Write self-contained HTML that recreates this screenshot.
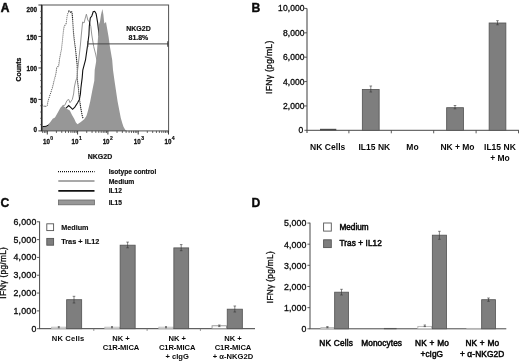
<!DOCTYPE html>
<html><head><meta charset="utf-8"><title>Figure</title>
<style>
html,body{margin:0;padding:0;background:#fff;}
svg{display:block;font-family:'Liberation Sans', sans-serif;}
</style></head><body>
<svg width="520" height="362">
<rect width="520" height="362" fill="#fff"/>
<polyline points="42.5,105 45,106.8 47.2,105.5 48.3,100 50,95 52.4,87.7 54,81 55.9,73.8 56.6,68.3 58.7,65.5 59.4,60 60.2,55.5 61.4,50 62.5,40 63.4,31 64.2,26.2 66.2,23.5 67,17 67.8,13.2 69,11" fill="none" stroke="#4a4a4a" stroke-width="1.15" stroke-linecap="round" stroke-dasharray="0.01 2"/>
<polyline points="69,11 70.4,12.2 71.6,11.2 72.2,14 72.8,22 73.3,30 74.3,40 75.3,47.5 76.4,58 77.2,65 77.3,79.5 78.2,86 79.2,97 80.8,108.2 82.5,117 83.6,118.9" fill="none" stroke="#111" stroke-width="1.3" stroke-linecap="round" stroke-dasharray="0.01 2"/>
<polyline points="62.6,105.5 64.8,105.3 67,100.5 68.7,99.4 70,102.7 72.3,99.5 73.6,94 74.4,87 75.8,80.5 77,78 77.6,70 78.2,65 79.2,56 80.4,45 81.3,35 82.6,22 84,23 85.3,18 86.4,14.2 87.9,20.5 89.3,21.4 90.8,26.3 91.8,35 93.7,46.6 95.6,54 97.5,63 99,72" fill="none" stroke="#8a8a8a" stroke-width="0.9"/>
<polyline points="66,108.2 68.7,105.5 70.4,107.1 72.6,109.3 74.8,107.1 77.6,102.7 79.4,99.4 80.4,94 80.9,88 82.2,77.6 82.8,70 85.5,60 87.4,46.6 88.9,35 89.3,26.3 90.3,18 91.8,16 93.2,11.8 94.7,11.3 96.1,13.7 97.6,22.4 98.5,30 99,36" fill="none" stroke="#111" stroke-width="1.1"/>
<polygon points="42,130.9 42,126.5 46.6,125.9 50,122.6 52.7,118.7 55,117.6 57.7,112.7 60.4,107.7 62.6,105.5 64.8,107 67.6,109.3 69.8,110.5 72,114.9 74.2,118.7 75.9,122.6 77.5,124.2 80.8,122 84.2,119.3 86.4,116 87.5,112.5 88.6,108.2 90.2,101.4 92.2,91 94.3,80.7 94.7,70 96.4,60 97.3,47 98,38 98.6,30 99,24.3 100,21.4 101,14.7 102.4,8.9 103.4,14.7 104.3,23.4 106,22 107.2,29 108.6,37 109.8,46 112.2,60 113,70 114.5,80.7 117.6,101.4 120.8,118 122.4,123.5 123.6,127 125.2,129.8 127,130.9" fill="#979797"/>
<polyline points="42.5,126.6 46,126.3 48.5,125" fill="none" stroke="#111" stroke-width="1"/>
<line x1="87.9" y1="43.9" x2="168.6" y2="43.9" stroke="#484848" stroke-width="1"/>
<line x1="87.9" y1="41" x2="87.9" y2="47" stroke="#484848" stroke-width="0.9"/>
<line x1="168.0" y1="41.3" x2="168.0" y2="46.7" stroke="#333" stroke-width="1.4"/>
<rect x="42.0" y="5.0" width="126.6" height="125.9" fill="none" stroke="#525252" stroke-width="1"/>
<line x1="41.6" y1="5.0" x2="41.6" y2="130.9" stroke="#2a2a2a" stroke-width="1.4"/>
<line x1="38.4" y1="130.90" x2="42.0" y2="130.90" stroke="#222" stroke-width="0.9"/>
<line x1="40.2" y1="124.61" x2="42.0" y2="124.61" stroke="#333" stroke-width="0.7"/>
<line x1="40.2" y1="118.31" x2="42.0" y2="118.31" stroke="#333" stroke-width="0.7"/>
<line x1="40.2" y1="112.02" x2="42.0" y2="112.02" stroke="#333" stroke-width="0.7"/>
<line x1="40.2" y1="105.72" x2="42.0" y2="105.72" stroke="#333" stroke-width="0.7"/>
<line x1="38.4" y1="99.43" x2="42.0" y2="99.43" stroke="#222" stroke-width="0.9"/>
<line x1="40.2" y1="93.13" x2="42.0" y2="93.13" stroke="#333" stroke-width="0.7"/>
<line x1="40.2" y1="86.84" x2="42.0" y2="86.84" stroke="#333" stroke-width="0.7"/>
<line x1="40.2" y1="80.54" x2="42.0" y2="80.54" stroke="#333" stroke-width="0.7"/>
<line x1="40.2" y1="74.25" x2="42.0" y2="74.25" stroke="#333" stroke-width="0.7"/>
<line x1="38.4" y1="67.95" x2="42.0" y2="67.95" stroke="#222" stroke-width="0.9"/>
<line x1="40.2" y1="61.66" x2="42.0" y2="61.66" stroke="#333" stroke-width="0.7"/>
<line x1="40.2" y1="55.36" x2="42.0" y2="55.36" stroke="#333" stroke-width="0.7"/>
<line x1="40.2" y1="49.06" x2="42.0" y2="49.06" stroke="#333" stroke-width="0.7"/>
<line x1="40.2" y1="42.77" x2="42.0" y2="42.77" stroke="#333" stroke-width="0.7"/>
<line x1="38.4" y1="36.48" x2="42.0" y2="36.48" stroke="#222" stroke-width="0.9"/>
<line x1="40.2" y1="30.18" x2="42.0" y2="30.18" stroke="#333" stroke-width="0.7"/>
<line x1="40.2" y1="23.88" x2="42.0" y2="23.88" stroke="#333" stroke-width="0.7"/>
<line x1="40.2" y1="17.59" x2="42.0" y2="17.59" stroke="#333" stroke-width="0.7"/>
<line x1="40.2" y1="11.30" x2="42.0" y2="11.30" stroke="#333" stroke-width="0.7"/>
<line x1="38.4" y1="5.00" x2="42.0" y2="5.00" stroke="#222" stroke-width="0.9"/>
<text transform="translate(37.0 132.1) scale(0.86 1)" font-size="7.4" font-weight="bold" text-anchor="end" fill="#111" stroke="#111" stroke-width="0.3">0</text>
<text transform="translate(37.0 102.7) scale(0.86 1)" font-size="7.4" font-weight="bold" text-anchor="end" fill="#111" stroke="#111" stroke-width="0.3">50</text>
<text transform="translate(37.0 71.3) scale(0.86 1)" font-size="7.4" font-weight="bold" text-anchor="end" fill="#111" stroke="#111" stroke-width="0.3">100</text>
<text transform="translate(37.0 39.7) scale(0.86 1)" font-size="7.4" font-weight="bold" text-anchor="end" fill="#111" stroke="#111" stroke-width="0.3">150</text>
<text transform="translate(37.0 12.0) scale(0.86 1)" font-size="7.4" font-weight="bold" text-anchor="end" fill="#111" stroke="#111" stroke-width="0.3">200</text>
<line x1="47.3" y1="130.9" x2="47.3" y2="134.5" stroke="#222" stroke-width="0.9"/>
<line x1="56.42" y1="130.9" x2="56.42" y2="133.0" stroke="#2a2a2a" stroke-width="0.7"/>
<line x1="61.76" y1="130.9" x2="61.76" y2="133.0" stroke="#2a2a2a" stroke-width="0.7"/>
<line x1="65.54" y1="130.9" x2="65.54" y2="133.0" stroke="#2a2a2a" stroke-width="0.7"/>
<line x1="68.48" y1="130.9" x2="68.48" y2="133.0" stroke="#2a2a2a" stroke-width="0.7"/>
<line x1="70.88" y1="130.9" x2="70.88" y2="133.0" stroke="#2a2a2a" stroke-width="0.7"/>
<line x1="72.91" y1="130.9" x2="72.91" y2="133.0" stroke="#2a2a2a" stroke-width="0.7"/>
<line x1="74.66" y1="130.9" x2="74.66" y2="133.0" stroke="#2a2a2a" stroke-width="0.7"/>
<line x1="76.21" y1="130.9" x2="76.21" y2="133.0" stroke="#2a2a2a" stroke-width="0.7"/>
<line x1="77.6" y1="130.9" x2="77.6" y2="134.5" stroke="#222" stroke-width="0.9"/>
<line x1="86.72" y1="130.9" x2="86.72" y2="133.0" stroke="#2a2a2a" stroke-width="0.7"/>
<line x1="92.06" y1="130.9" x2="92.06" y2="133.0" stroke="#2a2a2a" stroke-width="0.7"/>
<line x1="95.84" y1="130.9" x2="95.84" y2="133.0" stroke="#2a2a2a" stroke-width="0.7"/>
<line x1="98.78" y1="130.9" x2="98.78" y2="133.0" stroke="#2a2a2a" stroke-width="0.7"/>
<line x1="101.18" y1="130.9" x2="101.18" y2="133.0" stroke="#2a2a2a" stroke-width="0.7"/>
<line x1="103.21" y1="130.9" x2="103.21" y2="133.0" stroke="#2a2a2a" stroke-width="0.7"/>
<line x1="104.96" y1="130.9" x2="104.96" y2="133.0" stroke="#2a2a2a" stroke-width="0.7"/>
<line x1="106.51" y1="130.9" x2="106.51" y2="133.0" stroke="#2a2a2a" stroke-width="0.7"/>
<line x1="107.9" y1="130.9" x2="107.9" y2="134.5" stroke="#222" stroke-width="0.9"/>
<line x1="117.02" y1="130.9" x2="117.02" y2="133.0" stroke="#2a2a2a" stroke-width="0.7"/>
<line x1="122.36" y1="130.9" x2="122.36" y2="133.0" stroke="#2a2a2a" stroke-width="0.7"/>
<line x1="126.14" y1="130.9" x2="126.14" y2="133.0" stroke="#2a2a2a" stroke-width="0.7"/>
<line x1="129.08" y1="130.9" x2="129.08" y2="133.0" stroke="#2a2a2a" stroke-width="0.7"/>
<line x1="131.48" y1="130.9" x2="131.48" y2="133.0" stroke="#2a2a2a" stroke-width="0.7"/>
<line x1="133.51" y1="130.9" x2="133.51" y2="133.0" stroke="#2a2a2a" stroke-width="0.7"/>
<line x1="135.26" y1="130.9" x2="135.26" y2="133.0" stroke="#2a2a2a" stroke-width="0.7"/>
<line x1="136.81" y1="130.9" x2="136.81" y2="133.0" stroke="#2a2a2a" stroke-width="0.7"/>
<line x1="138.2" y1="130.9" x2="138.2" y2="134.5" stroke="#222" stroke-width="0.9"/>
<line x1="147.32" y1="130.9" x2="147.32" y2="133.0" stroke="#2a2a2a" stroke-width="0.7"/>
<line x1="152.66" y1="130.9" x2="152.66" y2="133.0" stroke="#2a2a2a" stroke-width="0.7"/>
<line x1="156.44" y1="130.9" x2="156.44" y2="133.0" stroke="#2a2a2a" stroke-width="0.7"/>
<line x1="159.38" y1="130.9" x2="159.38" y2="133.0" stroke="#2a2a2a" stroke-width="0.7"/>
<line x1="161.78" y1="130.9" x2="161.78" y2="133.0" stroke="#2a2a2a" stroke-width="0.7"/>
<line x1="163.81" y1="130.9" x2="163.81" y2="133.0" stroke="#2a2a2a" stroke-width="0.7"/>
<line x1="165.56" y1="130.9" x2="165.56" y2="133.0" stroke="#2a2a2a" stroke-width="0.7"/>
<line x1="167.11" y1="130.9" x2="167.11" y2="133.0" stroke="#2a2a2a" stroke-width="0.7"/>
<line x1="168.5" y1="130.9" x2="168.5" y2="134.5" stroke="#222" stroke-width="0.9"/>
<line x1="42.61" y1="130.9" x2="42.61" y2="133.0" stroke="#2a2a2a" stroke-width="0.7"/>
<line x1="44.36" y1="130.9" x2="44.36" y2="133.0" stroke="#2a2a2a" stroke-width="0.7"/>
<line x1="45.91" y1="130.9" x2="45.91" y2="133.0" stroke="#2a2a2a" stroke-width="0.7"/>
<text transform="translate(46.4 144.4) scale(0.82 1)" font-size="7.6" font-weight="bold" text-anchor="middle" fill="#111" stroke="#111" stroke-width="0.3">10</text>
<text transform="translate(51.699999999999996 139.9) scale(0.88 1)" font-size="5.8" font-weight="bold" text-anchor="middle" fill="#111" stroke="#111" stroke-width="0.2">0</text>
<text transform="translate(75.0 144.4) scale(0.82 1)" font-size="7.6" font-weight="bold" text-anchor="middle" fill="#111" stroke="#111" stroke-width="0.3">10</text>
<text transform="translate(80.3 139.9) scale(0.88 1)" font-size="5.8" font-weight="bold" text-anchor="middle" fill="#111" stroke="#111" stroke-width="0.2">1</text>
<text transform="translate(106.1 144.4) scale(0.82 1)" font-size="7.6" font-weight="bold" text-anchor="middle" fill="#111" stroke="#111" stroke-width="0.3">10</text>
<text transform="translate(111.39999999999999 139.9) scale(0.88 1)" font-size="5.8" font-weight="bold" text-anchor="middle" fill="#111" stroke="#111" stroke-width="0.2">2</text>
<text transform="translate(137.3 144.4) scale(0.82 1)" font-size="7.6" font-weight="bold" text-anchor="middle" fill="#111" stroke="#111" stroke-width="0.3">10</text>
<text transform="translate(142.60000000000002 139.9) scale(0.88 1)" font-size="5.8" font-weight="bold" text-anchor="middle" fill="#111" stroke="#111" stroke-width="0.2">3</text>
<text transform="translate(167.9 144.4) scale(0.82 1)" font-size="7.6" font-weight="bold" text-anchor="middle" fill="#111" stroke="#111" stroke-width="0.3">10</text>
<text transform="translate(173.20000000000002 139.9) scale(0.88 1)" font-size="5.8" font-weight="bold" text-anchor="middle" fill="#111" stroke="#111" stroke-width="0.2">4</text>
<text x="20.6" y="69.5" font-size="6.9" font-weight="bold" text-anchor="middle" fill="#0a0a0a" transform="rotate(-90 20.6 69.5)" stroke="#0a0a0a" stroke-width="0.25">Counts</text>
<text transform="translate(100 158.5) scale(0.93 1)" font-size="7.5" font-weight="bold" text-anchor="middle" fill="#111" stroke="#111" stroke-width="0.2">NKG2D</text>
<text transform="translate(138.5 30.5) scale(0.93 1)" font-size="7.5" font-weight="bold" text-anchor="middle" fill="#111" stroke="#111" stroke-width="0.2">NKG2D</text>
<text transform="translate(138.4 39.5) scale(0.93 1)" font-size="7.5" font-weight="bold" text-anchor="middle" fill="#111" stroke="#111" stroke-width="0.2">81.8%</text>
<line x1="58" y1="171.6" x2="94.6" y2="171.6" stroke="#111" stroke-width="1.2" stroke-dasharray="1 1"/>
<line x1="58.3" y1="180.9" x2="94.5" y2="180.9" stroke="#8c8c8c" stroke-width="1.5"/>
<line x1="58.3" y1="190.8" x2="94.5" y2="190.8" stroke="#111" stroke-width="1.8"/>
<rect x="58.4" y="200.0" width="36" height="4.8" fill="#979797" stroke="#6a6a6a" stroke-width="0.8"/>
<text transform="translate(108.7 174.3) scale(0.9 1)" font-size="7.4" font-weight="bold" text-anchor="start" fill="#111" stroke="#111" stroke-width="0.2">Isotype control</text>
<text transform="translate(108.7 183.8) scale(0.92 1)" font-size="7.4" font-weight="bold" text-anchor="start" fill="#111" stroke="#111" stroke-width="0.2">Medium</text>
<text transform="translate(108.7 193.3) scale(0.9 1)" font-size="7.4" font-weight="bold" text-anchor="start" fill="#111" stroke="#111" stroke-width="0.2">IL12</text>
<text transform="translate(108.7 205.0) scale(0.9 1)" font-size="7.4" font-weight="bold" text-anchor="start" fill="#111" stroke="#111" stroke-width="0.2">IL15</text>
<text x="0.7" y="12.0" font-size="12" font-weight="bold" text-anchor="start" fill="#0a0a0a" stroke="#111" stroke-width="0.55">A</text>
<text x="251.4" y="12.0" font-size="12.2" font-weight="bold" text-anchor="start" fill="#0a0a0a" stroke="#0a0a0a" stroke-width="0.35">B</text>
<text x="0.4" y="206.8" font-size="12.2" font-weight="bold" text-anchor="start" fill="#0a0a0a" stroke="#0a0a0a" stroke-width="0.35">C</text>
<text x="251.4" y="206.8" font-size="12.2" font-weight="bold" text-anchor="start" fill="#0a0a0a" stroke="#0a0a0a" stroke-width="0.35">D</text>
<line x1="307.0" y1="8.4" x2="307.0" y2="132.9" stroke="#555" stroke-width="1.15"/>
<line x1="306.5" y1="130.3" x2="518.9" y2="130.3" stroke="#484848" stroke-width="1"/>
<line x1="304.4" y1="130.3" x2="307.0" y2="130.3" stroke="#484848" stroke-width="0.9"/>
<text x="303.2" y="132.9" font-size="8.5" font-weight="normal" text-anchor="end" fill="#0a0a0a" stroke="#0a0a0a" stroke-width="0.3" textLength="4.7" lengthAdjust="spacing" >0</text>
<line x1="304.4" y1="105.93" x2="307.0" y2="105.93" stroke="#484848" stroke-width="0.9"/>
<text x="304.6" y="108.93" font-size="8.5" font-weight="normal" text-anchor="end" fill="#0a0a0a" stroke="#0a0a0a" stroke-width="0.3" textLength="21.7" lengthAdjust="spacing" >2,000</text>
<line x1="304.4" y1="81.56" x2="307.0" y2="81.56" stroke="#484848" stroke-width="0.9"/>
<text x="304.6" y="84.56" font-size="8.5" font-weight="normal" text-anchor="end" fill="#0a0a0a" stroke="#0a0a0a" stroke-width="0.3" textLength="21.7" lengthAdjust="spacing" >4,000</text>
<line x1="304.4" y1="57.19000000000001" x2="307.0" y2="57.19000000000001" stroke="#484848" stroke-width="0.9"/>
<text x="304.6" y="60.19000000000001" font-size="8.5" font-weight="normal" text-anchor="end" fill="#0a0a0a" stroke="#0a0a0a" stroke-width="0.3" textLength="21.7" lengthAdjust="spacing" >6,000</text>
<line x1="304.4" y1="32.82000000000001" x2="307.0" y2="32.82000000000001" stroke="#484848" stroke-width="0.9"/>
<text x="304.6" y="35.82000000000001" font-size="8.5" font-weight="normal" text-anchor="end" fill="#0a0a0a" stroke="#0a0a0a" stroke-width="0.3" textLength="21.7" lengthAdjust="spacing" >8,000</text>
<line x1="304.4" y1="8.450000000000003" x2="307.0" y2="8.450000000000003" stroke="#484848" stroke-width="0.9"/>
<text x="304.6" y="11.450000000000003" font-size="8.5" font-weight="normal" text-anchor="end" fill="#0a0a0a" stroke="#0a0a0a" stroke-width="0.3" textLength="26.5" lengthAdjust="spacing" >10,000</text>
<line x1="348.9" y1="130.3" x2="348.9" y2="133.3" stroke="#484848" stroke-width="0.9"/>
<line x1="391.3" y1="130.3" x2="391.3" y2="133.3" stroke="#484848" stroke-width="0.9"/>
<line x1="433.7" y1="130.3" x2="433.7" y2="133.3" stroke="#484848" stroke-width="0.9"/>
<line x1="476.1" y1="130.3" x2="476.1" y2="133.3" stroke="#484848" stroke-width="0.9"/>
<line x1="518.5" y1="130.3" x2="518.5" y2="133.3" stroke="#484848" stroke-width="0.9"/>
<rect x="320" y="128.8" width="16.3" height="1.7" fill="#4a4a4a"/>
<rect x="362.35" y="89.50" width="16.80" height="40.80" fill="#7e7e7e" stroke="#565656" stroke-width="0.85"/>
<path d="M370.8 86V92M369.5 86H372.1M369.5 92H372.1" stroke="#333" stroke-width="0.6" fill="none"/>
<rect x="446.65" y="107.70" width="16.80" height="22.60" fill="#7e7e7e" stroke="#565656" stroke-width="0.85"/>
<path d="M455 105.5V108.8M453.7 105.5H456.3M453.7 108.8H456.3" stroke="#333" stroke-width="0.6" fill="none"/>
<rect x="489.15" y="23.00" width="16.70" height="107.30" fill="#7e7e7e" stroke="#565656" stroke-width="0.85"/>
<path d="M497.5 20.7V24.8M496.2 20.7H498.8M496.2 24.8H498.8" stroke="#333" stroke-width="0.6" fill="none"/>
<text x="327.7" y="150.2" font-size="8.5" font-weight="bold" text-anchor="middle" fill="#0a0a0a" textLength="35.2" lengthAdjust="spacing" >NK Cells</text>
<text x="374.3" y="150.2" font-size="8.5" font-weight="bold" text-anchor="middle" fill="#0a0a0a" textLength="31.8" lengthAdjust="spacing" >IL15 NK</text>
<text x="412.5" y="150.2" font-size="8.5" font-weight="bold" text-anchor="middle" fill="#0a0a0a" >Mo</text>
<text x="457.5" y="150.2" font-size="8.5" font-weight="bold" text-anchor="middle" fill="#0a0a0a" textLength="34" lengthAdjust="spacing" >NK + Mo</text>
<text x="499.9" y="150.2" font-size="8.5" font-weight="bold" text-anchor="middle" fill="#0a0a0a" textLength="31.8" lengthAdjust="spacing" >IL15 NK</text>
<text x="500.0" y="161.2" font-size="8.5" font-weight="bold" text-anchor="middle" fill="#0a0a0a" >+ Mo</text>
<text x="272.0" y="67.4" font-size="8.5" font-weight="normal" text-anchor="middle" fill="#0a0a0a" stroke="#0a0a0a" stroke-width="0.3" textLength="53.3" lengthAdjust="spacing" transform="rotate(-90 272.0 67.4)" >IFNγ (pg/mL)</text>
<line x1="39.6" y1="221.5" x2="39.6" y2="328.7" stroke="#484848" stroke-width="1"/>
<line x1="39.1" y1="328.7" x2="255" y2="328.7" stroke="#3c3c3c" stroke-width="1"/>
<line x1="37.0" y1="328.7" x2="39.6" y2="328.7" stroke="#484848" stroke-width="0.9"/>
<text x="36.4" y="331.59999999999997" font-size="8.8" font-weight="normal" text-anchor="end" fill="#0a0a0a" stroke="#0a0a0a" stroke-width="0.3" textLength="4.9" lengthAdjust="spacing" >0</text>
<line x1="37.0" y1="310.88" x2="39.6" y2="310.88" stroke="#484848" stroke-width="0.9"/>
<text x="36.4" y="313.78" font-size="8.8" font-weight="normal" text-anchor="end" fill="#0a0a0a" stroke="#0a0a0a" stroke-width="0.3" textLength="23.0" lengthAdjust="spacing" >1,000</text>
<line x1="37.0" y1="293.06" x2="39.6" y2="293.06" stroke="#484848" stroke-width="0.9"/>
<text x="36.4" y="295.96" font-size="8.8" font-weight="normal" text-anchor="end" fill="#0a0a0a" stroke="#0a0a0a" stroke-width="0.3" textLength="23.0" lengthAdjust="spacing" >2,000</text>
<line x1="37.0" y1="275.24" x2="39.6" y2="275.24" stroke="#484848" stroke-width="0.9"/>
<text x="36.4" y="278.14" font-size="8.8" font-weight="normal" text-anchor="end" fill="#0a0a0a" stroke="#0a0a0a" stroke-width="0.3" textLength="23.0" lengthAdjust="spacing" >3,000</text>
<line x1="37.0" y1="257.41999999999996" x2="39.6" y2="257.41999999999996" stroke="#484848" stroke-width="0.9"/>
<text x="36.4" y="260.31999999999994" font-size="8.8" font-weight="normal" text-anchor="end" fill="#0a0a0a" stroke="#0a0a0a" stroke-width="0.3" textLength="23.0" lengthAdjust="spacing" >4,000</text>
<line x1="37.0" y1="239.6" x2="39.6" y2="239.6" stroke="#484848" stroke-width="0.9"/>
<text x="36.4" y="242.5" font-size="8.8" font-weight="normal" text-anchor="end" fill="#0a0a0a" stroke="#0a0a0a" stroke-width="0.3" textLength="23.0" lengthAdjust="spacing" >5,000</text>
<line x1="37.0" y1="221.77999999999997" x2="39.6" y2="221.77999999999997" stroke="#484848" stroke-width="0.9"/>
<text x="36.4" y="224.67999999999998" font-size="8.8" font-weight="normal" text-anchor="end" fill="#0a0a0a" stroke="#0a0a0a" stroke-width="0.3" textLength="23.0" lengthAdjust="spacing" >6,000</text>
<line x1="93.8" y1="328.7" x2="93.8" y2="330.9" stroke="#777" stroke-width="0.8"/>
<line x1="147.1" y1="328.7" x2="147.1" y2="330.9" stroke="#777" stroke-width="0.8"/>
<line x1="200.39999999999998" y1="328.7" x2="200.39999999999998" y2="330.9" stroke="#777" stroke-width="0.8"/>
<rect x="51.65" y="327.20" width="14.30" height="1.50" fill="#fff" stroke="#b4b4b4" stroke-width="0.85"/>
<rect x="66.65" y="299.70" width="15.00" height="29.00" fill="#7e7e7e" stroke="#565656" stroke-width="0.85"/>
<path d="M74 296.3V303M72.7 296.3H75.3M72.7 303H75.3" stroke="#333" stroke-width="0.6" fill="none"/>
<path d="M58.8 326.6V327.8M57.8 326.6H59.8M57.8 327.8H59.8" stroke="#333" stroke-width="0.6" fill="none"/>
<rect x="104.85" y="327.20" width="14.60" height="1.50" fill="#fff" stroke="#b4b4b4" stroke-width="0.85"/>
<rect x="120.15" y="245.20" width="15.00" height="83.50" fill="#7e7e7e" stroke="#565656" stroke-width="0.85"/>
<path d="M127.6 242.1V247.8M126.3 242.1H128.9M126.3 247.8H128.9" stroke="#333" stroke-width="0.6" fill="none"/>
<path d="M112 326.6V327.8M111.0 326.6H113.0M111.0 327.8H113.0" stroke="#333" stroke-width="0.6" fill="none"/>
<rect x="158.85" y="327.20" width="14.30" height="1.50" fill="#fff" stroke="#b4b4b4" stroke-width="0.85"/>
<rect x="173.85" y="247.90" width="14.80" height="80.80" fill="#7e7e7e" stroke="#565656" stroke-width="0.85"/>
<path d="M181.2 244.6V250.7M179.89999999999998 244.6H182.5M179.89999999999998 250.7H182.5" stroke="#333" stroke-width="0.6" fill="none"/>
<path d="M166 326.6V327.8M165.0 326.6H167.0M165.0 327.8H167.0" stroke="#333" stroke-width="0.6" fill="none"/>
<rect x="212.05" y="325.80" width="14.50" height="2.90" fill="#fff" stroke="#8a8a8a" stroke-width="0.85"/>
<rect x="227.25" y="309.20" width="15.10" height="19.50" fill="#7e7e7e" stroke="#565656" stroke-width="0.85"/>
<path d="M234.8 306V312M233.5 306H236.10000000000002M233.5 312H236.10000000000002" stroke="#333" stroke-width="0.6" fill="none"/>
<path d="M219.3 325V326.6M218.10000000000002 325H220.5M218.10000000000002 326.6H220.5" stroke="#333" stroke-width="0.6" fill="none"/>
<text x="68" y="340.8" font-size="7.6" font-weight="bold" text-anchor="middle" fill="#0a0a0a" textLength="32.5" lengthAdjust="spacing" >NK Cells</text>
<text x="121" y="340.8" font-size="7.6" font-weight="bold" text-anchor="middle" fill="#0a0a0a" >NK +</text>
<text x="121" y="350.0" font-size="7.6" font-weight="bold" text-anchor="middle" fill="#0a0a0a" textLength="36.6" lengthAdjust="spacing" >C1R-MICA</text>
<text x="177.2" y="340.8" font-size="7.6" font-weight="bold" text-anchor="middle" fill="#0a0a0a" >NK +</text>
<text x="177.2" y="350.0" font-size="7.6" font-weight="bold" text-anchor="middle" fill="#0a0a0a" textLength="36.6" lengthAdjust="spacing" >C1R-MICA</text>
<text x="177.2" y="358.8" font-size="7.6" font-weight="bold" text-anchor="middle" fill="#0a0a0a" >+ cIgG</text>
<text x="233" y="340.8" font-size="7.6" font-weight="bold" text-anchor="middle" fill="#0a0a0a" >NK +</text>
<text x="233" y="350.0" font-size="7.6" font-weight="bold" text-anchor="middle" fill="#0a0a0a" textLength="36.6" lengthAdjust="spacing" >C1R-MICA</text>
<text x="233" y="358.8" font-size="7.6" font-weight="bold" text-anchor="middle" fill="#0a0a0a" >+ α-NKG2D</text>
<rect x="46.8" y="223.8" width="6.8" height="6.8" fill="#fff" stroke="#555" stroke-width="0.9"/>
<rect x="46.8" y="238.4" width="6.8" height="6.8" fill="#7e7e7e" stroke="#555" stroke-width="0.9"/>
<text transform="translate(61.2 230.3) scale(0.915 1)" font-size="7.9" font-weight="bold" text-anchor="start" fill="#111" stroke="#111" stroke-width="0.15">Medium</text>
<text transform="translate(61.2 244.2) scale(0.93 1)" font-size="7.9" font-weight="bold" text-anchor="start" fill="#111" stroke="#111" stroke-width="0.15">Tras + IL12</text>
<text x="6.5" y="272.9" font-size="8.3" font-weight="normal" text-anchor="middle" fill="#0a0a0a" stroke="#0a0a0a" stroke-width="0.3" textLength="51.5" lengthAdjust="spacing" transform="rotate(-90 6.5 272.9)" >IFNγ (pg/mL)</text>
<line x1="310.0" y1="222.7" x2="310.0" y2="328.8" stroke="#484848" stroke-width="1"/>
<line x1="309.5" y1="328.8" x2="506.3" y2="328.8" stroke="#484848" stroke-width="1"/>
<line x1="307.4" y1="328.8" x2="310.0" y2="328.8" stroke="#484848" stroke-width="0.9"/>
<text x="306.3" y="332.1" font-size="8.8" font-weight="normal" text-anchor="end" fill="#0a0a0a" stroke="#0a0a0a" stroke-width="0.3" textLength="4.9" lengthAdjust="spacing" >0</text>
<line x1="307.4" y1="307.65000000000003" x2="310.0" y2="307.65000000000003" stroke="#484848" stroke-width="0.9"/>
<text x="306.4" y="310.95000000000005" font-size="8.8" font-weight="normal" text-anchor="end" fill="#0a0a0a" stroke="#0a0a0a" stroke-width="0.3" textLength="22.5" lengthAdjust="spacing" >1,000</text>
<line x1="307.4" y1="286.5" x2="310.0" y2="286.5" stroke="#484848" stroke-width="0.9"/>
<text x="306.4" y="289.8" font-size="8.8" font-weight="normal" text-anchor="end" fill="#0a0a0a" stroke="#0a0a0a" stroke-width="0.3" textLength="22.5" lengthAdjust="spacing" >2,000</text>
<line x1="307.4" y1="265.35" x2="310.0" y2="265.35" stroke="#484848" stroke-width="0.9"/>
<text x="306.4" y="268.65000000000003" font-size="8.8" font-weight="normal" text-anchor="end" fill="#0a0a0a" stroke="#0a0a0a" stroke-width="0.3" textLength="22.5" lengthAdjust="spacing" >3,000</text>
<line x1="307.4" y1="244.20000000000002" x2="310.0" y2="244.20000000000002" stroke="#484848" stroke-width="0.9"/>
<text x="306.4" y="247.50000000000003" font-size="8.8" font-weight="normal" text-anchor="end" fill="#0a0a0a" stroke="#0a0a0a" stroke-width="0.3" textLength="22.5" lengthAdjust="spacing" >4,000</text>
<line x1="307.4" y1="223.05" x2="310.0" y2="223.05" stroke="#484848" stroke-width="0.9"/>
<text x="306.4" y="226.35000000000002" font-size="8.8" font-weight="normal" text-anchor="end" fill="#0a0a0a" stroke="#0a0a0a" stroke-width="0.3" textLength="22.5" lengthAdjust="spacing" >5,000</text>
<rect x="320.85" y="327.60" width="13.10" height="1.20" fill="#fff" stroke="#b4b4b4" stroke-width="0.85"/>
<rect x="334.65" y="292.20" width="13.80" height="36.60" fill="#7e7e7e" stroke="#565656" stroke-width="0.85"/>
<path d="M341.5 289.3V295M340.2 289.3H342.8M340.2 295H342.8" stroke="#333" stroke-width="0.6" fill="none"/>
<path d="M327.4 326.6V327.8M326.2 326.6H328.59999999999997M326.2 327.8H328.59999999999997" stroke="#333" stroke-width="0.6" fill="none"/>
<rect x="384.35" y="328.40" width="11.80" height="0.40" fill="#7e7e7e" stroke="#565656" stroke-width="0.85"/>
<rect x="417.85" y="326.40" width="13.80" height="2.40" fill="#fff" stroke="#b4b4b4" stroke-width="0.85"/>
<rect x="432.35" y="235.20" width="14.10" height="93.60" fill="#7e7e7e" stroke="#565656" stroke-width="0.85"/>
<path d="M439.4 231.3V239.3M438.09999999999997 231.3H440.7M438.09999999999997 239.3H440.7" stroke="#333" stroke-width="0.6" fill="none"/>
<path d="M424.8 325V326.6M423.6 325H426.0M423.6 326.6H426.0" stroke="#333" stroke-width="0.6" fill="none"/>
<rect x="466.85" y="328.40" width="14.10" height="0.40" fill="#fff" stroke="#b4b4b4" stroke-width="0.85"/>
<rect x="481.65" y="299.70" width="13.80" height="29.10" fill="#7e7e7e" stroke="#565656" stroke-width="0.85"/>
<path d="M488.5 298V301.3M487.2 298H489.8M487.2 301.3H489.8" stroke="#333" stroke-width="0.6" fill="none"/>
<text x="336.1" y="346.0" font-size="8.3" font-weight="normal" text-anchor="middle" fill="#0a0a0a" textLength="33.8" lengthAdjust="spacing" stroke="#0a0a0a" stroke-width="0.5">NK Cells</text>
<text x="381.6" y="346.0" font-size="8.3" font-weight="normal" text-anchor="middle" fill="#0a0a0a" textLength="40.8" lengthAdjust="spacing" stroke="#0a0a0a" stroke-width="0.5">Monocytes</text>
<text x="432" y="346.0" font-size="8.3" font-weight="normal" text-anchor="middle" fill="#0a0a0a" textLength="33.8" lengthAdjust="spacing" stroke="#0a0a0a" stroke-width="0.5">NK + Mo</text>
<text x="431.8" y="356.6" font-size="8.3" font-weight="normal" text-anchor="middle" fill="#0a0a0a" stroke="#0a0a0a" stroke-width="0.5">+cIgG</text>
<text x="482.3" y="346.0" font-size="8.3" font-weight="normal" text-anchor="middle" fill="#0a0a0a" textLength="33.8" lengthAdjust="spacing" stroke="#0a0a0a" stroke-width="0.5">NK + Mo</text>
<text x="482.1" y="356.6" font-size="8.3" font-weight="normal" text-anchor="middle" fill="#0a0a0a" textLength="44.3" lengthAdjust="spacing" stroke="#0a0a0a" stroke-width="0.5">+ α-NKG2D</text>
<rect x="323.6" y="223.0" width="7.7" height="8.1" fill="#fff" stroke="#555" stroke-width="0.9"/>
<rect x="323.6" y="239.8" width="7.7" height="7.8" fill="#7e7e7e" stroke="#555" stroke-width="0.9"/>
<text x="339.5" y="230.4" font-size="8.2" font-weight="normal" text-anchor="start" fill="#0a0a0a" stroke="#0a0a0a" stroke-width="0.5">Medium</text>
<text x="339.5" y="245.9" font-size="8.2" font-weight="normal" text-anchor="start" fill="#0a0a0a" textLength="42.3" lengthAdjust="spacing" stroke="#0a0a0a" stroke-width="0.5">Tras + IL12</text>
<text x="273.4" y="277.2" font-size="8.3" font-weight="normal" text-anchor="middle" fill="#0a0a0a" stroke="#0a0a0a" stroke-width="0.3" textLength="52" lengthAdjust="spacing" transform="rotate(-90 273.4 277.2)" >IFNγ (pg/mL)</text>
</svg>
</body></html>
